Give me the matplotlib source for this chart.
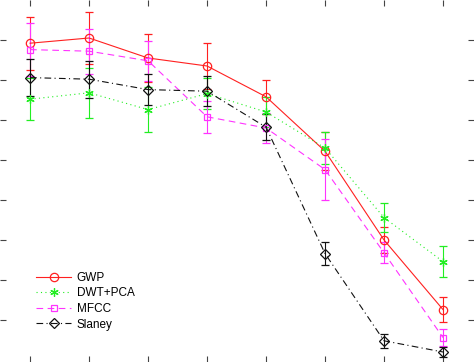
import matplotlib
matplotlib.use("Agg")
import matplotlib.pyplot as plt
from matplotlib.lines import Line2D

plt.rcParams['font.family'] = ['Liberation Sans', 'DejaVu Sans']

x = [1, 2, 3, 4, 5, 6, 7, 8]
gwp = [89.6, 90.25, 87.75, 86.75, 82.9, 76.1, 65.0, 56.3]
gwp_err = [3.3, 3.3, 3.0, 2.9, 2.1, 2.4, 1.6, 1.6]
dwt = [82.6, 83.4, 81.3, 83.3, 81.0, 76.5, 67.8, 62.3]
dwt_err = [2.6, 3.1, 2.8, 1.9, 1.9, 2.0, 1.8, 1.9]
mfcc = [88.8, 88.6, 87.4, 80.4, 79.0, 73.8, 63.4, 52.8]
mfcc_err = [3.3, 2.8, 2.5, 2.0, 1.9, 3.8, 1.3, 1.1]
slaney = [85.3, 85.1, 83.8, 83.6, 79.1, 63.3, 52.4, 51.0]
slaney_err = [2.3, 2.3, 1.9, 1.9, 1.6, 1.4, 0.9, 0.6]
labels = ['GWP', 'DWT+PCA', 'MFCC', 'Slaney']

fig = plt.figure(figsize=(4.74, 3.62), dpi=100)
ax = fig.add_axes([0, 0, 1, 1])

red = '#ff2020'
green = '#22ee22'
mag = '#ff33ff'
blk = '#111111'

styles = [
    dict(color=red, ls='-', marker='o', ms=6),
    dict(color=green, ls=(0, (1, 3)), marker=(6, 2, 0), ms=6),
    dict(color=mag, ls=(0, (6, 4)), marker='s', ms=5),
    dict(color=blk, ls=(0, (6, 3, 1, 3)), marker='D', ms=5),
]
series = [gwp, dwt, mfcc, slaney]
errs = [gwp_err, dwt_err, mfcc_err, slaney_err]

handles = []
for s, e, st, lab in zip(series, errs, styles, labels):
    ax.errorbar(x, s, yerr=e, color=st['color'], ls=st['ls'], lw=0.8,
                marker=st['marker'], ms=st['ms'], mfc='none', mec=st['color'], mew=0.9,
                capsize=3, elinewidth=0.8, capthick=0.8)
    handles.append(Line2D([], [], color=st['color'], ls=st['ls'], lw=0.8,
                          marker=st['marker'], ms=st['ms'], mfc='none',
                          mec=st['color'], mew=0.9, label=lab))

ax.set_xlim(0.49, 8.525)
ax.set_ylim(49.75, 95)
ax.set_xticks(x)
ax.set_yticks([55, 60, 65, 70, 75, 80, 85, 90])
ax.tick_params(direction='in', length=4, width=0.8, color='#444444',
               top=True, right=True, labelbottom=False, labelleft=False)
for sp in ax.spines.values():
    sp.set_visible(False)

ax.legend(handles=handles, loc='upper left', bbox_to_anchor=(0.066, 0.262), frameon=False,
          fontsize=8.5, handlelength=3.0, labelspacing=0.3, handletextpad=0.45,
          borderaxespad=0)

fig.savefig('out.png', dpi=100)
